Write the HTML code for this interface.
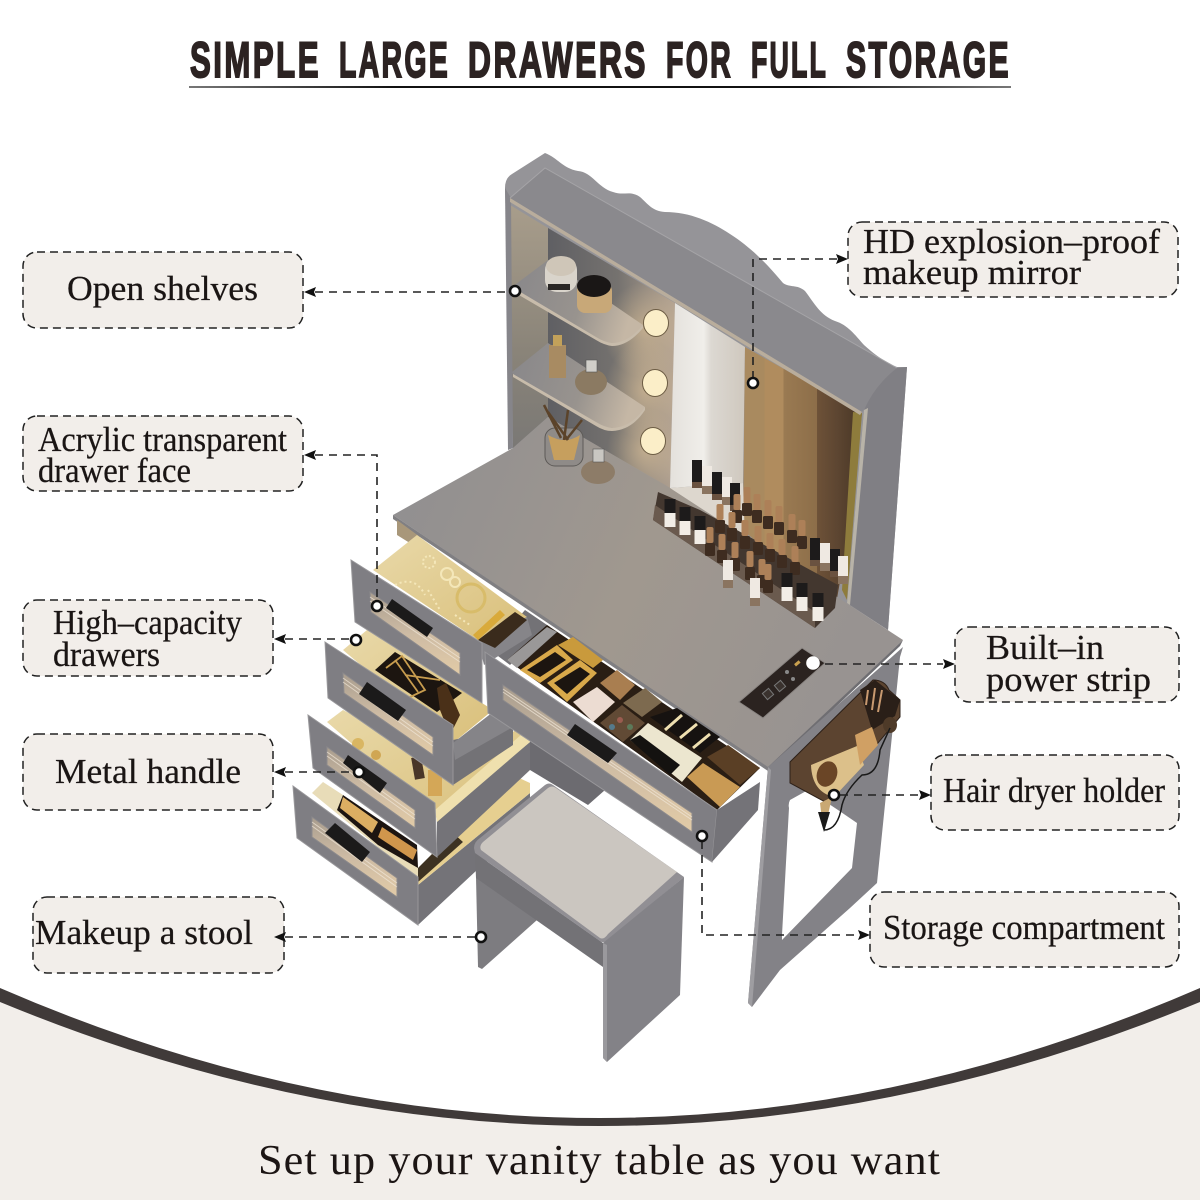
<!DOCTYPE html>
<html><head><meta charset="utf-8"><style>
html,body{margin:0;padding:0;background:#fff;width:1200px;height:1200px;overflow:hidden}
svg{display:block}
.l{font-family:"Liberation Serif",serif;font-size:35px;fill:#1a1514;stroke:#1a1514;stroke-width:.25px}
.t{font-family:"Liberation Sans",sans-serif;font-weight:700;font-size:50px;letter-spacing:4px;fill:#2c2322;stroke:#2c2322;stroke-width:1.9px}
.box{fill:#f2eeea;stroke:#222;stroke-width:1.5;stroke-dasharray:8 5}
.c{fill:none;stroke:#222;stroke-width:1.6;stroke-dasharray:8 6}
.dot{fill:#fff;stroke:#111;stroke-width:2.6}
.ar{fill:#111}
.win{fill:url(#win);stroke:#8c8a8c;stroke-width:1}
.wl{stroke:#f1e7d8;stroke-width:1;opacity:.7;fill:none}
.hd{fill:#1b1a1a}
.fr{fill:#7f7e83;stroke:#98979a;stroke-width:1}
.sd{fill:#6d6c70}
.rr{fill:none;stroke:#f4e7b9;stroke-width:2}
</style></head><body>
<svg width="1200" height="1200" viewBox="0 0 1200 1200" xmlns="http://www.w3.org/2000/svg">
<defs>
<linearGradient id="ul" x1="0" x2="1" y1="0" y2="0"><stop offset="0" stop-color="#777"/><stop offset=".25" stop-color="#111"/><stop offset=".75" stop-color="#111"/><stop offset="1" stop-color="#777"/></linearGradient>
<linearGradient id="tb" x1="0" y1="0" x2="1" y2=".3"><stop offset="0" stop-color="#8f8e91"/><stop offset=".55" stop-color="#a0988f"/><stop offset="1" stop-color="#989391"/></linearGradient>
<linearGradient id="win" x1="0" y1="0" x2="0" y2="1"><stop offset="0" stop-color="#a99d8e"/><stop offset=".5" stop-color="#cdbba4"/><stop offset="1" stop-color="#e2cba7"/></linearGradient>
<linearGradient id="mw" x1="0" y1="0" x2="1" y2="0"><stop offset="0" stop-color="#e4e1dc"/><stop offset=".45" stop-color="#f0eeea"/><stop offset=".55" stop-color="#dcd8d2"/><stop offset="1" stop-color="#cfc8be"/></linearGradient>
<linearGradient id="mb" x1="0" y1="0" x2="1" y2="0"><stop offset="0" stop-color="#a98a5f"/><stop offset=".18" stop-color="#a98a5f"/><stop offset=".18" stop-color="#b08c5e"/><stop offset=".34" stop-color="#b08c5e"/><stop offset=".34" stop-color="#9a7a52"/><stop offset=".62" stop-color="#8d6e49"/><stop offset=".62" stop-color="#6e5238"/><stop offset=".8" stop-color="#5c4531"/><stop offset="1" stop-color="#473524"/></linearGradient>
<linearGradient id="wl" x1="0" y1="0" x2="1" y2="0"><stop offset="0" stop-color="#5f5f63"/><stop offset=".55" stop-color="#75726f"/><stop offset="1" stop-color="#b3a392"/></linearGradient>
<linearGradient id="ip" x1="0" y1="0" x2="0" y2="1"><stop offset="0" stop-color="#a89d8b"/><stop offset=".6" stop-color="#8a8479"/><stop offset="1" stop-color="#7a7875"/></linearGradient>
<linearGradient id="sl" x1="0" y1="0" x2="1" y2=".2"><stop offset="0" stop-color="#88878a"/><stop offset=".6" stop-color="#98938e"/><stop offset="1" stop-color="#c5b7a5"/></linearGradient>
<linearGradient id="cr" x1="0" y1="0" x2="1" y2="1"><stop offset="0" stop-color="#e9d9a9"/><stop offset="1" stop-color="#d9bf7a"/></linearGradient>
<radialGradient id="gl"><stop offset="0" stop-color="#e6c89a" stop-opacity=".55"/><stop offset="1" stop-color="#e6c89a" stop-opacity="0"/></radialGradient>
<g id="lb"><rect x="-5" y="-14" width="10" height="28" fill="#1d1b1b"/><rect x="-5" y="8" width="10" height="6" fill="#6a5240"/></g>
<g id="lw"><rect x="-5" y="-14" width="10" height="28" fill="#efe9e2"/><rect x="-5" y="6" width="10" height="8" fill="#8a7460"/></g>
<g id="lf"><rect x="-5.5" y="-14" width="11" height="14" fill="#1d1b1b"/><rect x="-5.5" y="0" width="11" height="14" fill="#f2ede6"/></g>
<g id="np"><rect x="-3.5" y="-16" width="7" height="16" rx="2" fill="#ad8058"/><rect x="-5" y="0" width="10" height="13" rx="1.5" fill="#3e2c20"/></g>
</defs>

<rect width="1200" height="1200" fill="#fff"/>
<!-- bottom curve -->
<path d="M0,1002 Q600,1250 1200,1002 L1200,1200 L0,1200Z" fill="#f2eeea"/>
<path d="M0,988 Q600,1248 1200,988 L1200,1002 Q600,1250 0,1002Z" fill="#403a39"/>

<!-- title -->
<text class="t" x="190" y="77" textLength="131" lengthAdjust="spacingAndGlyphs">SIMPLE</text>
<text class="t" x="339" y="77" textLength="111" lengthAdjust="spacingAndGlyphs">LARGE</text>
<text class="t" x="468" y="77" textLength="180" lengthAdjust="spacingAndGlyphs">DRAWERS</text>
<text class="t" x="666" y="77" textLength="67" lengthAdjust="spacingAndGlyphs">FOR</text>
<text class="t" x="751" y="77" textLength="77" lengthAdjust="spacingAndGlyphs">FULL</text>
<text class="t" x="846" y="77" textLength="165" lengthAdjust="spacingAndGlyphs">STORAGE</text>
<rect x="189" y="86" width="822" height="2" fill="url(#ul)"/>

<!-- hutch wave panel -->
<path d="M505,188 Q505,178 512,174 L545,153 C558,158 562,168 578,171 C592,172 598,188 613,192 C624,196 630,190 640,197 C648,204 652,211 665,212 C690,212 712,222 730,234 C755,250 772,270 783,283 C790,288 797,284 805,291 C815,304 820,315 835,321 C848,325 855,335 864,345 C875,355 885,362 897,367 L907,367 L888,630 L846,603 L513,448Z" fill="#959498"/>
<!-- back wall -->
<polygon points="548,228 675,303 670,488 548,417" fill="url(#wl)"/>
<polygon points="510,205 548,228 548,417 513,448" fill="url(#ip)"/>
<polygon points="505,188 511,198 513,448 508,450" fill="#86858a"/>
<ellipse cx="645" cy="330" rx="42" ry="48" fill="url(#gl)"/>
<ellipse cx="645" cy="390" rx="40" ry="50" fill="url(#gl)"/>
<ellipse cx="645" cy="450" rx="38" ry="42" fill="url(#gl)"/>
<!-- mirror -->
<polygon points="675,303 745,347 743,483 670,488" fill="url(#mw)"/>
<polygon points="745,347 862,413 845,553 835,610 743,530" fill="url(#mb)"/>
<polygon points="670,488 743,483 745,540 690,510" fill="#ddd7ce"/>
<polygon points="853,412 862,413 847,600 842,590" fill="#8e7c3c"/>
<!-- top board -->
<polygon points="510,198 545,168 897,368 862,412" fill="#8a898d"/>
<polygon points="510,198 862,412 860,415 510,202" fill="#b9ad9c"/>
<path d="M510,198 L545,168 L897,368" fill="none" stroke="#a5a4a7" stroke-width="1"/>
<!-- right side -->
<path d="M907,367 L897,368 Q875,385 864,410 L847,603 L888,630Z" fill="#807f84"/>
<path d="M864,410 L847,603 L850,605 L868,408Z" fill="#b8b3a8"/>
<!-- shelves -->
<path d="M512,291 L596,340 Q604,345 612,346 Q628,346 643,328 L643,325 L612,343 L512,287Z" fill="#c8bcab"/>
<path d="M512,287 L548,260 L643,325 Q628,343 612,343 Q604,342 596,337 L512,287Z" fill="url(#sl)"/>
<path d="M513,377 L596,426 Q604,431 612,431 Q632,430 645,410 L645,407 L612,428 L513,372Z" fill="#c8bcab"/>
<path d="M512,372 L548,343 L645,407 Q632,427 612,428 Q604,427 596,422 L513,374Z" fill="url(#sl)"/>
<!-- lights -->
<ellipse cx="656" cy="323" rx="12.5" ry="13.5" fill="#fbeec8" stroke="#6c5c44" stroke-width="1"/>
<ellipse cx="655" cy="383" rx="12.5" ry="13.5" fill="#fbeec8" stroke="#6c5c44" stroke-width="1"/>
<ellipse cx="653" cy="441" rx="12.5" ry="13.5" fill="#fbeec8" stroke="#6c5c44" stroke-width="1"/>

<!-- table -->
<polygon points="393,515 513,448 548,417 670,488 848,604 903,640 768,768" fill="url(#tb)"/>
<polygon points="903,640 900,646 768,771 768,767" fill="#6f6e72"/>
<polygon points="393,515 768,767 768,771 393,519" fill="#807f82"/>

<!-- shelf items -->
<rect x="545" y="258" width="32" height="34" rx="12" fill="#d9d4cb"/>
<ellipse cx="561" cy="266" rx="15" ry="10" fill="#cfc6b8"/>
<rect x="548" y="284" width="22" height="6" fill="#2a2725"/>
<rect x="577" y="283" width="35" height="30" rx="8" fill="#c8a878"/>
<ellipse cx="594" cy="286" rx="17" ry="11" fill="#1a1716"/>
<rect x="549" y="345" width="17" height="33" fill="#a88b62"/>
<rect x="553" y="335" width="9" height="11" fill="#c2a15a"/>
<ellipse cx="591" cy="382" rx="16" ry="13" fill="#8b7a62"/>
<rect x="586" y="360" width="11" height="12" fill="#d0cec9" stroke="#555" stroke-width=".6"/>
<rect x="545" y="428" width="38" height="38" rx="10" fill="#8f8b88" stroke="#5d5a57" stroke-width="1"/>
<path d="M548,435 Q565,445 580,435 L574,460 L554,460Z" fill="#c69f5e"/>
<path d="M544,405 L561,438 M568,410 L564,440 M582,420 L566,440 M548,412 L568,440" stroke="#5b432a" stroke-width="2.5" fill="none"/>
<ellipse cx="598" cy="472" rx="17" ry="12" fill="#8d7c68"/>
<rect x="593" y="449" width="11" height="13" fill="#c9c7c2" stroke="#555" stroke-width=".6"/>

<!-- rack -->
<polygon points="653,520 658,492 700,510 838,585 835,608 815,628" fill="#43372f"/>
<polygon points="653,520 815,628 815,612 655,505" fill="#6a5a4e"/>
<use href="#lb" x="697" y="474"/><use href="#lw" x="707" y="480"/><use href="#lb" x="717" y="486"/><use href="#lw" x="727" y="491"/><use href="#lb" x="735" y="497"/>
<use href="#lb" x="815" y="552"/><use href="#lw" x="825" y="557"/><use href="#lb" x="835" y="563"/><use href="#lw" x="843" y="570"/>
<use href="#np" x="737" y="510"/><use href="#np" x="747" y="503"/><use href="#np" x="757" y="510"/><use href="#np" x="768" y="516"/><use href="#np" x="779" y="522"/><use href="#np" x="792" y="530"/><use href="#np" x="802" y="536"/>
<use href="#np" x="720" y="520"/><use href="#np" x="732" y="528"/><use href="#np" x="745" y="536"/><use href="#np" x="758" y="542"/><use href="#np" x="770" y="549"/><use href="#np" x="782" y="555"/><use href="#np" x="795" y="562"/>
<use href="#np" x="710" y="543"/><use href="#np" x="722" y="550"/><use href="#np" x="735" y="558"/><use href="#np" x="750" y="567"/><use href="#np" x="762" y="575"/><use href="#lw" x="728" y="574"/><use href="#lw" x="755" y="592"/><use href="#np" x="768" y="580"/>
<use href="#lf" x="670" y="513"/><use href="#lf" x="685" y="521"/><use href="#lf" x="700" y="530"/>
<use href="#lf" x="787" y="587"/><use href="#lf" x="802" y="597"/><use href="#lf" x="818" y="607"/>

<!-- power strip -->
<polygon points="802,648 825,663 763,718 739,702" fill="#2b2320" stroke="#8a8582" stroke-width="1"/>
<circle cx="813" cy="663" r="5.5" class="dot" style="stroke:#fff"/>
<rect x="764" y="690" width="8" height="8" fill="#3a322e" stroke="#777" transform="rotate(-40 768 694)"/>
<rect x="776" y="682" width="8" height="8" fill="#3a322e" stroke="#777" transform="rotate(-40 780 686)"/>
<circle cx="787" cy="672" r="2" fill="#888"/><circle cx="793" cy="679" r="2" fill="#888"/>
<rect x="794" y="662" width="6" height="3" fill="#c9a04e" transform="rotate(-40 797 663)"/>

<!-- leg -->
<path d="M768,767 L903,647 L900,657 L877,883 L850,908 L780,970 L752,1007 L748,1003Z" fill="#838287"/>
<path d="M768,767 L771,770 L752,1007 L748,1003Z" fill="#9e9da1"/>
<path d="M790,800 Q788,804 789,808 L782,935 L782,940 L852,868 L857,823 L838,810 L808,790Z" fill="#fff"/>
<!-- holder -->
<path d="M790,762 L873,680 Q885,680 889,690 L900,700 L900,717 L827,803 L790,783Z" fill="#5c4430" stroke="#2d2018" stroke-width="1"/>
<path d="M860,690 L875,680 L900,700 L895,716 L872,730Z" fill="#2a1f18"/>
<path d="M866,705 L868,690 M872,710 L875,688 M878,712 L882,690" stroke="#c99a70" stroke-width="2"/>
<ellipse cx="890" cy="725" rx="7" ry="8" fill="#4e3a28"/>
<path d="M811,765 L857,746 L864,765 L834,797 Q812,792 811,765Z" fill="#dcc08a"/>
<polygon points="855,735 872,727 878,745 860,765" fill="#d0a064"/>
<ellipse cx="827" cy="774" rx="10" ry="13" fill="#6a4526" transform="rotate(20 827 774)"/>
<path d="M820,803 L832,797 L828,815 L822,820Z" fill="#c9a873"/>
<path d="M818,812 L830,812 L824,832Z" fill="#1a1a1a"/>
<path d="M824,830 Q838,830 842,805 Q846,790 862,775 Q878,775 880,750 L890,728" stroke="#191919" stroke-width="1.5" fill="none"/>

<!-- body behind -->
<polygon points="530,740 605,790 588,805 530,770" fill="#6c6b70"/>
<polygon points="397,520 420,537 413,545 397,535" fill="#a8977a"/>
<polygon points="525,610 550,627 510,665 490,650" fill="#737276"/>

<!-- drawer 4 -->
<polygon points="418,885 530,793 530,825 477,870 418,925" fill="#747378"/>
<polygon points="453,835 517,777 530,783 530,793 418,885 418,878 463,842" fill="#e6cf90"/>
<polygon points="312,793 323,782 343,795 418,868 418,880" fill="#e8dcb8"/>
<polygon points="337,810 343,795 417,845 418,868 378,845" fill="#1d1511"/>
<polygon points="343,797 378,822 372,833 340,808" fill="#dcae62"/>
<polygon points="382,827 417,850 413,860 378,837" fill="#d0964c"/>
<polygon points="418,868 453,833 463,842 418,882" fill="#3d3222"/>
<polygon points="293,786 418,877 418,925 297,838" class="fr"/>
<polygon points="312,817 397,878 397,897 312,837" class="win"/>
<path class="wl" d="M312,822 L397,883 M312,826 L397,887"/>
<polygon points="335,823 370,852 362,862 325,833" class="hd"/>

<!-- drawer 3 -->
<polygon points="327,722 343,710 450,765 520,728 530,742 437,818" fill="url(#cr)"/>
<polygon points="437,818 530,742 530,770 437,857" fill="#747378"/>
<polygon points="435,810 530,727 530,742 437,822" fill="#efe0ae"/>
<rect x="413" y="757" width="10" height="22" fill="#4a3728" transform="rotate(-10 418 768)"/>
<rect x="428" y="770" width="14" height="26" fill="#d4a757"/>
<circle cx="358" cy="744" r="6" fill="#d9b662"/><circle cx="376" cy="755" r="5" fill="#d0a653"/>
<polygon points="308,715 435,803 437,857 313,768" class="fr"/>
<polygon points="327,747 415,810 415,828 327,765" class="win"/>
<path class="wl" d="M327,752 L415,815 M327,756 L415,819"/>
<polygon points="348,755 387,783 380,793 343,763" class="hd"/>

<!-- drawer 2 -->
<polygon points="343,650 367,630 493,710 453,743" fill="url(#cr)"/>
<polygon points="453,740 513,727 513,745 453,785" fill="#737276"/>
<polygon points="453,743 493,712 513,727 455,760" fill="#858488"/>
<polygon points="375,670 395,652 462,693 437,712" fill="#1c1510"/>
<path d="M386,668 L402,656 L425,690 L408,698 M395,660 L418,692 M405,675 L440,680" stroke="#c79c4e" stroke-width="1.8" fill="none"/>
<path d="M437,688 L446,683 L460,715 L450,735 L440,710Z" fill="#4a3018"/>
<polygon points="325,642 453,725 453,785 328,698" class="fr"/>
<polygon points="343,673 433,737 433,755 344,693" class="win"/>
<path class="wl" d="M343,678 L433,742 M343,682 L433,746"/>
<polygon points="367,682 406,710 398,721 359,694" class="hd"/>

<!-- drawer 1 -->
<polygon points="373,570 417,535 527,617 478,640" fill="url(#cr)"/>
<polygon points="478,640 527,617 532,635 484,665" fill="#868589"/>
<polygon points="478,640 515,612 527,620 495,648" fill="#3a2b1c"/>
<polygon points="478,640 505,615 500,610 473,635" fill="#d9aa3a"/>
<circle cx="471" cy="598" r="14" class="rr" style="stroke:#d8bc6a;stroke-width:3"/>
<circle cx="447" cy="574" r="6" class="rr"/><circle cx="455" cy="582" r="5" class="rr"/>
<circle cx="429" cy="562" r="6" class="rr" style="stroke-dasharray:2 2"/>
<path d="M395,585 Q415,575 425,595 M428,590 L440,610 M455,615 L470,625" class="rr" style="stroke-dasharray:2 3"/>
<polygon points="351,560 482,643 482,703 355,622" class="fr"/>
<polygon points="370,592 460,653 460,675 371,612" class="win"/>
<path class="wl" d="M370,597 L460,658 M370,601 L460,662"/>
<polygon points="392,599 433,628 427,637 386,608" class="hd"/>

<!-- large drawer -->
<polygon points="507,660 547,625 760,768 717,810" fill="#2a1e14"/>
<polygon points="507,660 547,627 557,632 517,668" fill="#9a9898"/>
<polygon points="520,670 557,645 573,660 540,683" fill="#d9a94a"/><polygon points="527,670 555,652 566,660 540,677" fill="#1c1510"/>
<polygon points="547,683 580,660 597,673 567,702" fill="#d9a94a"/><polygon points="554,683 580,667 590,674 567,694" fill="#1c1510"/>
<polygon points="558,645 573,637 603,660 593,668" fill="#c99a3c"/>
<polygon points="573,702 597,687 615,702 593,722" fill="#ecdcd2"/>
<polygon points="600,683 617,670 635,685 620,700" fill="#a97e50"/>
<polygon points="623,703 645,688 662,702 642,717" fill="#7d6a4f"/>
<polygon points="600,723 622,705 645,723 623,742" fill="#614a35"/><circle cx="620" cy="720" r="3" fill="#9a5c50"/><circle cx="612" cy="727" r="3" fill="#557a8b"/><circle cx="630" cy="727" r="3" fill="#5c7a5a"/>
<polygon points="650,717 677,708 720,737 700,753" fill="#161210"/>
<path d="M665,730 L682,715 M680,738 L697,724 M693,748 L710,734" stroke="#eedfb0" stroke-width="3"/>
<polygon points="630,740 648,723 702,758 682,782" fill="#ece6cf"/>
<polygon points="630,740 640,735 680,765 670,775" fill="#141210"/>
<polygon points="707,757 728,745 760,768 740,785" fill="#5a3f25"/>
<polygon points="687,777 703,763 740,787 720,807" fill="#c99a54"/>
<polygon points="485,652 717,810 712,862 488,713" class="fr"/>
<polygon points="717,810 760,782 758,810 712,862" fill="#747378"/>
<polygon points="503,685 692,813 692,832 503,700" class="win"/>
<path class="wl" d="M503,689 L692,817 M503,692 L692,820"/>
<polygon points="575,724 617,753 608,763 567,735" class="hd"/>

<!-- stool -->
<polygon points="476,877 537,920 482,969 478,967" fill="#7d7c80"/>
<polygon points="475,853 603,943 603,967 476,878" fill="#737276"/>
<path d="M474,848 Q474,842 480,838 L545,785 Q549,782 553,785 L684,877 L608,940 Q604,944 600,941 L475,853Z" fill="#918f94"/>
<path d="M481,850 Q479,846 483,842 L548,788 Q552,785 556,788 L677,872 L608,934 Q604,940 600,938Z" fill="#cbc6c0"/>
<polygon points="603,943 684,877 680,995 607,1062 603,1058" fill="#838287"/>
<polygon points="603,943 607,945 607,1062 603,1058" fill="#9a999d"/>

<!-- label boxes -->
<rect class="box" x="23" y="252" width="280" height="76" rx="14"/>
<rect class="box" x="23" y="416" width="280" height="75" rx="14"/>
<rect class="box" x="23" y="600" width="250" height="76" rx="14"/>
<rect class="box" x="23" y="734" width="250" height="76" rx="14"/>
<rect class="box" x="33" y="897" width="251" height="76" rx="14"/>
<rect class="box" x="848" y="222" width="330" height="75" rx="14"/>
<rect class="box" x="955" y="627" width="224" height="75" rx="14"/>
<rect class="box" x="931" y="755" width="248" height="75" rx="14"/>
<rect class="box" x="870" y="892" width="309" height="75" rx="14"/>

<text class="l" x="67" y="300" textLength="191" lengthAdjust="spacingAndGlyphs">Open shelves</text>
<text class="l" x="38" y="451" textLength="249" lengthAdjust="spacingAndGlyphs">Acrylic transparent</text>
<text class="l" x="38" y="482" textLength="153" lengthAdjust="spacingAndGlyphs">drawer face</text>
<text class="l" x="53" y="634" textLength="189" lengthAdjust="spacingAndGlyphs">High–capacity</text>
<text class="l" x="53" y="666" textLength="107" lengthAdjust="spacingAndGlyphs">drawers</text>
<text class="l" x="55" y="783" textLength="186" lengthAdjust="spacingAndGlyphs">Metal handle</text>
<text class="l" x="35" y="944" textLength="218" lengthAdjust="spacingAndGlyphs">Makeup a stool</text>
<text class="l" x="863" y="253" textLength="297" lengthAdjust="spacingAndGlyphs">HD explosion–proof</text>
<text class="l" x="863" y="284" textLength="218" lengthAdjust="spacingAndGlyphs">makeup mirror</text>
<text class="l" x="986" y="659" textLength="118" lengthAdjust="spacingAndGlyphs">Built–in</text>
<text class="l" x="986" y="691" textLength="165" lengthAdjust="spacingAndGlyphs">power strip</text>
<text class="l" x="943" y="802" textLength="222" lengthAdjust="spacingAndGlyphs">Hair dryer holder</text>
<text class="l" x="883" y="939" textLength="282" lengthAdjust="spacingAndGlyphs">Storage compartment</text>
<text x="258" y="1174" textLength="683" lengthAdjust="spacingAndGlyphs" style="font-family:'Liberation Serif',serif;font-size:42px;letter-spacing:1px;fill:#1c1514">Set up your vanity table as you want</text>

<!-- connectors -->
<path class="c" d="M315,292 H510"/><path class="ar" d="M304,292 L316,287 L314,292 L316,297Z"/><circle class="dot" cx="515" cy="291" r="5"/>
<path class="c" d="M315,455 H377 V601"/><path class="ar" d="M304,455 L316,450 L314,455 L316,460Z"/><circle class="dot" cx="377" cy="606" r="5"/>
<path class="c" d="M285,639 H351"/><path class="ar" d="M274,639 L286,634 L284,639 L286,644Z"/><circle class="dot" cx="356" cy="640" r="5"/>
<path class="c" d="M285,772 H354"/><path class="ar" d="M274,772 L286,767 L284,772 L286,777Z"/><circle class="dot" cx="359" cy="772" r="5"/>
<path class="c" d="M285,937 H476"/><path class="ar" d="M274,937 L286,932 L284,937 L286,942Z"/><circle class="dot" cx="481" cy="937" r="5"/>
<path class="c" d="M837,259 H753 V378"/><path class="ar" d="M848,259 L836,254 L838,259 L836,264Z"/><circle class="dot" cx="753" cy="383" r="5"/>
<path class="c" d="M825,664 H943"/><path class="ar" d="M955,664 L943,659 L945,664 L943,669Z"/>
<path class="c" d="M840,795 H919"/><path class="ar" d="M931,795 L919,790 L921,795 L919,800Z"/><circle class="dot" cx="834" cy="795" r="5"/>
<path class="c" d="M702,841 V935 H858"/><path class="ar" d="M870,935 L858,930 L860,935 L858,940Z"/><circle class="dot" cx="702" cy="836" r="5"/>
</svg>
</body></html>
